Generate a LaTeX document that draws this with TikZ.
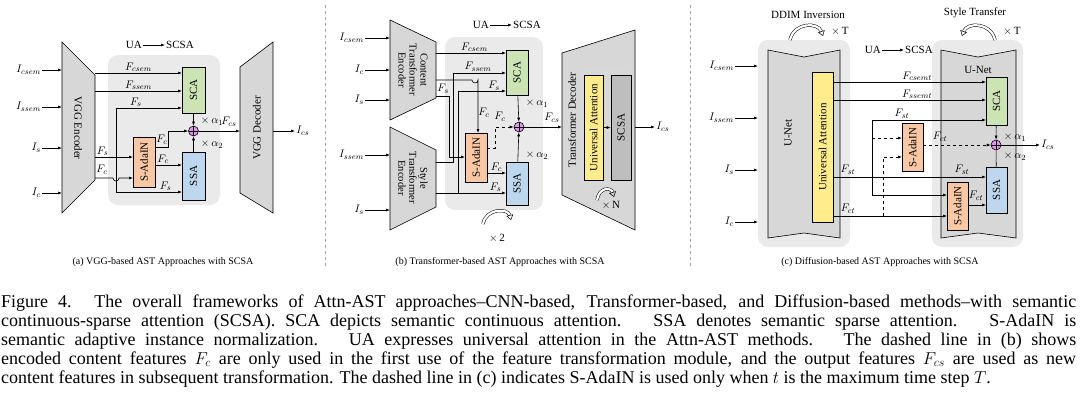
\documentclass[tikz,border=0pt]{standalone}
\usepackage{fontspec}
\setmainfont{Liberation Serif}
\usetikzlibrary{arrows.meta}
\definecolor{bg}{RGB}{234,234,234}
\definecolor{trapc}{RGB}{215,215,215}
\definecolor{scac}{RGB}{204,228,180}
\definecolor{ssac}{RGB}{190,214,238}
\definecolor{adac}{RGB}{248,200,165}
\definecolor{uac}{RGB}{255,236,140}
\definecolor{scsac}{RGB}{190,190,190}
\definecolor{opc}{RGB}{225,150,235}
\begin{document}
\begin{tikzpicture}[x=1pt,y=-1pt,
 arr/.style={-{Latex[length=4pt,width=3pt]},line width=0.6pt},
 ln/.style={line width=0.6pt},
 trap/.style={fill=trapc,draw,line width=0.6pt},
 blk/.style={draw,line width=0.6pt,inner sep=0pt,font=\fontsize{11}{11}\selectfont},
 lab/.style={font=\fontsize{11}{11}\selectfont,inner sep=1pt},
 op/.style={circle,draw,fill=opc,minimum size=10pt,inner sep=0pt,line width=0.6pt,
   path picture={\draw (path picture bounding box.north)--(path picture bounding box.south) (path picture bounding box.west)--(path picture bounding box.east);}},
 bgbox/.style={fill=bg,rounded corners=10pt},
 loop/.style={double=white,draw=black,double distance=2.2pt,line width=0.5pt,-{Triangle[open,length=5pt,width=7pt]}}
]
\useasboundingbox (0,0) rectangle (1080,416);
\draw[gray!70,dashed,line width=1pt] (325,5)--(325,268) (690,5)--(690,268);
% ================= (a)
\fill[bgbox] (108,55) rectangle (220,205);
\node[lab,anchor=east] (uaa1) at (143,45) {UA};
\node[lab,anchor=west] (uaa2) at (165,45) {SCSA};
\draw[arr] (uaa1)--(uaa2);
\draw[trap] (62,42)--(95,75)--(95,180)--(62,213)--cycle;
\node[lab,rotate=-90] (enca) at (78,128) {VGG Encoder};
\foreach \y/\t in {70/I_{csem},107/I_{ssem},148/I_s,193/I_c}{
 \coordinate (ia\y) at (42,\y);
 \draw[arr] (ia\y)--(62,\y);
 \node[lab,left] at (ia\y) {$\t$};}
\node[blk,fill=scac,minimum width=23pt,minimum height=46pt] (scaa) at (193.5,90) {\rotatebox{90}{SCA}};
\node[blk,fill=ssac,minimum width=23pt,minimum height=48pt] (ssaa) at (193.5,176) {\rotatebox{90}{SSA}};
\node[blk,fill=adac,minimum width=22pt,minimum height=50pt] (adaa) at (144,162) {\rotatebox{90}{S-AdaIN}};
\node[op] (opa) at (193.5,131) {};
\draw[arr] (95,73)--(182,73) node[lab,above,pos=0.5] {$F_{csem}$};
\draw[arr] (95,91)--(182,91) node[lab,above,pos=0.5] {$F_{ssem}$};
\draw[arr] (116,157)--(116,108)--(182,108) node[lab,above,pos=0.3] {$F_s$};
\draw[arr] (116,157)--(116,192)--(182,192) node[lab,above,pos=0.75] {$F_s$};
\draw[arr] (95,157)--(133,157) node[lab,above,pos=0.2] {$F_s$};
\draw[arr] (95,178)--(113,178) arc(180:0:3)--(133,178);
\node[lab] at (102,170) {$F_c$};
\draw[arr] (155,147)--(168,147)--(168,131)--(opa);
\node[lab] at (162,140) {$F_c$};
\draw[arr] (155,165)--(182,165) node[lab,above,pos=0.3] {$F_c$};
\draw[arr] (scaa)--(opa); \draw[arr] (ssaa)--(opa);
\node[lab] at (212,121) {$\times\,\alpha_1$};
\node[lab] at (212,144) {$\times\,\alpha_2$};
\draw[trap] (240,67)--(273,42)--(273,213)--(240,193)--cycle;
\node[lab,rotate=90] (deca) at (257,128) {VGG Decoder};
\draw[arr] (opa)--(240,131);
\node[lab] at (229,122) {$F_{cs}$};
\draw[arr] (273,131)--(295,131) node[lab,right] {$I_{cs}$};
\node[font=\fontsize{10}{10}\selectfont] at (163,262) {(a) VGG-based AST Approaches with SCSA};
% ================= (b)
\fill[bgbox] (445,37) rectangle (543,210);
\node[lab,anchor=east] (uab1) at (490,25) {UA};
\node[lab,anchor=west] (uab2) at (512,25) {SCSA};
\draw[arr] (uab1)--(uab2);
\draw[trap] (390,20)--(436,42)--(436,98)--(390,120)--cycle;
\node[lab,rotate=-90,align=center,font=\fontsize{10.5}{11}\selectfont] at (413,70) {Content\\Transformer\\Encoder};
\draw[trap] (390,127)--(436,150)--(436,207)--(390,230)--cycle;
\node[lab,rotate=-90,align=center,font=\fontsize{10.5}{11}\selectfont] at (413,178) {Style\\Transformer\\Encoder};
\foreach \y/\t in {38/I_{csem},70/I_c,100/I_s,155/I_{ssem},210/I_s}{
 \coordinate (ib\y) at (365,\y);
 \draw[arr] (ib\y)--(390,\y);
 \node[lab,left] at (ib\y) {$\t$};}
\node[blk,fill=scac,minimum width=22pt,minimum height=45pt] (scab) at (517,72.5) {\rotatebox{90}{SCA}};
\node[blk,fill=ssac,minimum width=22pt,minimum height=43pt] (ssab) at (517,183.5) {\rotatebox{90}{SSA}};
\node[blk,fill=adac,minimum width=22pt,minimum height=49pt] (adab) at (476,157.5) {\rotatebox{90}{S-AdaIN}};
\node[op] (opb) at (519,127) {};
\draw[arr] (436,53)--(506,53) node[lab,above,pos=0.55] {$F_{csem}$};
\draw[arr] (436,162)--(453,162)--(453,73)--(506,73);
\node[lab] at (478,67) {$F_{ssem}$};
\draw[arr] (436,80)--(472,80) arc(180:0:3)--(478,80)--(478,133);
\node[lab] at (484,113) {$F_c$};
\draw[arr] (436,96)--(449,96)--(449,157)--(465,157);
\node[lab] at (443,89) {$F_s$};
\draw[arr] (458,193)--(458,91)--(506,91);
\node[lab] at (494,86) {$F_s$};
\draw[arr] (436,193)--(506,193) node[lab,above,pos=0.85] {$F_s$};
\draw[arr] (487,173)--(506,173) node[lab,above,pos=0.5] {$F_c$};
\draw[arr,dashed] (487,148)--(495,148)--(495,127)--(opb);
\node[lab] at (500,117) {$F_c$};
\draw[arr] (scab)--(opb); \draw[arr] (ssab)--(opb);
\node[lab] at (537,103) {$\times\,\alpha_1$};
\node[lab] at (537,155) {$\times\,\alpha_2$};
\draw[loop] (483,224) .. controls (486,208) and (508,208) .. (511,220);
\node[lab] at (497,238) {$\times$\,2};
\draw[trap] (562,53)--(635,30)--(635,230)--(562,195)--cycle;
\node[lab,rotate=90] at (572,120) {Transformer Decoder};
\fill[scsac!60,rounded corners=4pt] (580,70) rectangle (632,185);
\node[blk,fill=uac,minimum width=19pt,minimum height=105pt] (uab) at (593.5,127.5) {\rotatebox{90}{Universal Attention}};
\node[blk,fill=scsac,minimum width=20pt,minimum height=105pt] (scsab) at (621,127.5) {\rotatebox{90}{SCSA}};
\draw[arr] (uab)--(scsab);
\draw[loop] (597,200) .. controls (599,187) and (611,187) .. (614,197);
\node[lab] at (611,205) {$\times$\,N};
\draw[arr] (opb)--(562,127);
\node[lab] at (552,118) {$F_{cs}$};
\draw[arr] (635,127)--(655,127) node[lab,right] {$I_{cs}$};
\node[font=\fontsize{10}{10}\selectfont] at (500,262) {(b) Transformer-based AST Approaches with SCSA};
% ================= (c)
\fill[bgbox] (758,40) rectangle (850,247);
\fill[bgbox] (932,40) rectangle (1023,247);
\draw[trap] (768,50)--(804,57)--(840,50)--(840,238)--(804,233)--(768,238)--cycle;
\node[lab,rotate=90] at (788,133) {U-Net};
\node[blk,fill=uac,minimum width=21pt,minimum height=150pt] (uac) at (822.5,147) {\rotatebox{90}{Universal Attention}};
\node[lab] at (808,15) {DDIM Inversion};
\draw[loop] (790,40) .. controls (794,22) and (818,22) .. (823,36);
\node[lab] at (840,31) {$\times$\,T};
\node[lab,anchor=east] (uac1) at (882,50) {UA};
\node[lab,anchor=west] (uac2) at (904,50) {SCSA};
\draw[arr] (uac1)--(uac2);
\draw[trap] (941,50)--(978,57)--(1016,50)--(1016,238)--(978,233)--(941,238)--cycle;
\node[lab] at (978,70) {U-Net};
\node[lab] at (975,13) {Style Transfer};
\draw[loop] (995,40) .. controls (991,22) and (967,22) .. (962,36);
\node[lab] at (1012,31) {$\times$\,T};
\foreach \y/\t in {66/I_{csem},118/I_{ssem},170/I_s,222/I_c}{
 \coordinate (ic\y) at (735,\y);
 \draw[arr] (ic\y)--(758,\y);
 \node[lab,left] at (ic\y) {$\t$};}
\node[blk,fill=scac,minimum width=21pt,minimum height=48pt] (scac) at (996.5,101) {\rotatebox{90}{SCA}};
\node[blk,fill=ssac,minimum width=21pt,minimum height=46pt] (ssac) at (996.5,190) {\rotatebox{90}{SSA}};
\node[blk,fill=adac,minimum width=21pt,minimum height=48pt] (adac1) at (912.5,147.5) {\rotatebox{90}{S-AdaIN}};
\node[blk,fill=adac,minimum width=21pt,minimum height=48pt] (adac2) at (957.5,206) {\rotatebox{90}{S-AdaIN}};
\node[op] (opc) at (996,145) {};
\draw[arr] (833,82)--(986,82) node[lab,above,pos=0.55] {$F_{csemt}$};
\draw[arr] (833,100)--(986,100) node[lab,above,pos=0.55] {$F_{ssemt}$};
\draw[arr] (872,195)--(872,120)--(986,120);
\node[lab] at (902,114) {$F_{st}$};
\draw[arr] (872,195)--(947,195);
\draw[arr,dashed] (872,138)--(902,138);
\draw[arr] (833,177)--(986,177);
\node[lab] at (848,170) {$F_{st}$};
\node[lab] at (962,170) {$F_{st}$};
\draw[arr] (833,216)--(947,216);
\node[lab] at (848,209) {$F_{ct}$};
\draw[arr,dashed] (883,216)--(883,157)--(902,157);
\draw[arr,dashed] (adac1.east|-opc)--(opc);
\node[lab] at (940,137) {$F_{ct}$};
\draw[arr] (968,205)--(986,205);
\node[lab] at (976,196) {$F_{ct}$};
\draw[arr] (scac)--(opc); \draw[ln] (ssac)--(opc);
\node[lab] at (1015,137) {$\times\,\alpha_1$};
\node[lab] at (1015,156) {$\times\,\alpha_2$};
\draw[arr] (opc)--(1040,145) node[lab,right] {$I_{cs}$};
\node[font=\fontsize{10}{10}\selectfont] at (880,262) {(c) Diffusion-based AST Approaches with SCSA};
% ================= caption
\begin{scope}[every node/.style={anchor=west,inner sep=0pt,font=\fontsize{18}{18}\selectfont}]
\node at (1,303) {\makebox[1075pt][s]{Figure 4. The overall frameworks of Attn-AST approaches--CNN-based, Transformer-based, and Diffusion-based methods--with semantic}};
\node at (1,322) {\makebox[1075pt][s]{continuous-sparse attention (SCSA). SCA depicts semantic continuous attention. \ SSA denotes semantic sparse attention. \ S-AdaIN is}};
\node at (1,341) {\makebox[1075pt][s]{semantic adaptive instance normalization. \ UA expresses universal attention in the Attn-AST methods. \ The dashed line in (b) shows}};
\node at (1,360) {\makebox[1075pt][s]{encoded content features $F_c$ are only used in the first use of the feature transformation module, and the output features $F_{cs}$ are used as new}};
\node at (1,379) {content features in subsequent transformation. The dashed line in (c) indicates S-AdaIN is used only when $t$ is the maximum time step $T$.};
\end{scope}
\end{tikzpicture}
\end{document}
